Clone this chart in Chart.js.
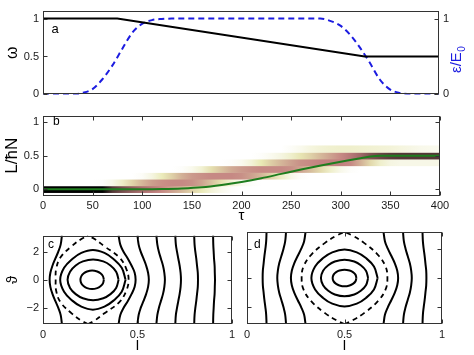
<!DOCTYPE html>
<html><head><meta charset="utf-8">
<script src="https://cdn.jsdelivr.net/npm/chart.js@4"></script>
<style>
html,body{margin:0;padding:0;background:#fff;width:474px;height:355px;overflow:hidden}
.box{position:absolute}
</style></head><body>
<div class="box" style="left:0;top:0;width:474px;height:105px"><canvas id="ca"></canvas></div>
<div class="box" style="left:0;top:105px;width:474px;height:120px"><canvas id="cb"></canvas></div>
<div class="box" style="left:0;top:225px;width:240px;height:130px"><canvas id="cc"></canvas></div>
<div class="box" style="left:240px;top:225px;width:234px;height:130px"><canvas id="cd"></canvas></div>
<script>
// ---------- DATA ----------
// panel a
const aTau = [0, 75, 325, 400];
const aOmega = [1, 1, 0.5, 0.5];
const epsTau = [0, 30, 40, 50, 60, 70, 80, 90, 100, 110, 120, 130, 280, 290, 300, 310, 320, 330, 340, 350, 360, 370, 380, 400];
const epsVal = [0, 0, 0.02, 0.07, 0.2, 0.38, 0.6, 0.81, 0.93, 0.98, 0.995, 1, 1, 0.97, 0.91, 0.79, 0.62, 0.42, 0.2, 0.07, 0.02, 0.005, 0, 0];
const aYTicks = [0, 0.5, 1];
const aY2Ticks = [0, 1];
// panel b
const lTau = [0, 50, 100, 120, 140, 160, 180, 200, 220, 240, 260, 280, 300, 320, 330, 340, 360, 400];
const lVal = [0, 0, 0, 0.003, 0.012, 0.03, 0.065, 0.11, 0.165, 0.23, 0.295, 0.355, 0.41, 0.465, 0.49, 0.5, 0.5, 0.5];
const bXTicks = [0, 50, 100, 150, 200, 250, 300, 350, 400];
const bYTicks = [0, 0.5, 1];
const hmTau = [0,10,20,30,40,50,60,70,80,90,100,110,120,130,140,150,160,170,180,190,200,210,220,230,240,250,260,270,280,290,300,310,320,330,340,350,360,370,380,390,400];
const hmL = [0, 0.1, 0.2, 0.3, 0.4, 0.5, 0.6];
const hmP0 = [1,1,1,1,1,1,1,.93,.86,.79,.72,.66,.6,.53,.45,.35,.24,.14,.07,.02,0,0,0,0,0,0,0,0,0,0,0,0,0,0,0,0,0,0,0,0,0];
const hmP1 = [0,0,0,0,0,0,.02,.09,.2,.34,.46,.54,.58,.6,.6,.58,.52,.41,.28,.15,.06,.02,0,0,0,0,0,0,0,0,0,0,0,0,0,0,0,0,0,0,0];
const hmP2 = [0,0,0,0,0,0,0,0,0,0,.03,.11,.23,.36,.48,.55,.58,.6,.6,.6,.58,.53,.46,.34,.2,.09,.02,0,0,0,0,0,0,0,0,0,0,0,0,0,0];
const hmP3 = [0,0,0,0,0,0,0,0,0,0,0,0,0,0,.02,.07,.16,.3,.41,.5,.55,.58,.6,.6,.6,.58,.52,.43,.31,.18,.08,.02,0,0,0,0,0,0,0,0,0];
const hmP4 = [0,0,0,0,0,0,0,0,0,0,0,0,0,0,0,0,0,0,0,.02,.06,.14,.25,.37,.46,.53,.58,.6,.62,.63,.63,.6,.48,.32,.18,.11,.09,.09,.09,.09,.09];
const hmP5 = [0,0,0,0,0,0,0,0,0,0,0,0,0,0,0,0,0,0,0,0,0,0,.02,.06,.11,.18,.27,.36,.45,.53,.6,.67,.75,.84,.89,.92,.93,.93,.93,.93,.93];
const hmP6 = [0,0,0,0,0,0,0,0,0,0,0,0,0,0,0,0,0,0,0,0,0,0,0,0,0,.03,.07,.12,.15,.17,.18,.18,.17,.16,.15,.14,.12,.1,.08,.07,.06];
// panels c, d
const cdXTicks = [0, 0.5, 1];
const cdYTicks = [-2, 0, 2];
const thetaS = [-3.1416,-2.5,-2,-1.5,-1,-0.5,0,0.5,1,1.5,2,2.5,3.1416];
const cOpen1 = [0.100,0.0935,0.081,0.065,0.050,0.039,0.035,0.039,0.050,0.065,0.081,0.0935,0.100];
const cOpen4 = [0.400,0.409,0.426,0.449,0.469,0.485,0.490,0.485,0.469,0.449,0.426,0.409,0.400];
const cOpen5 = [0.500,0.506,0.517,0.532,0.546,0.556,0.560,0.556,0.546,0.532,0.517,0.506,0.500];
const cOpen6 = [0.600,0.605,0.613,0.624,0.635,0.642,0.645,0.642,0.635,0.624,0.613,0.605,0.600];
const cOpen7 = [0.700,0.703,0.709,0.716,0.723,0.728,0.730,0.728,0.723,0.716,0.709,0.703,0.700];
const cOpen8 = [0.800,0.802,0.806,0.811,0.815,0.819,0.820,0.819,0.815,0.811,0.806,0.802,0.800];
const cOpen9 = [0.900,0.901,0.903,0.905,0.908,0.909,0.910,0.909,0.908,0.905,0.903,0.901,0.900];
const cRing1 = [[0.322,0],[0.317,0.26],[0.304,0.46],[0.287,0.59],[0.26,0.66],[0.233,0.59],[0.216,0.46],[0.203,0.26],[0.198,0],[0.203,-0.26],[0.216,-0.46],[0.233,-0.59],[0.26,-0.66],[0.287,-0.59],[0.304,-0.46],[0.317,-0.26],[0.322,0]];
const cRing2 = [[0.400,0],[0.387,0.58],[0.357,1.02],[0.319,1.31],[0.265,1.45],[0.211,1.31],[0.173,1.02],[0.143,0.58],[0.130,0],[0.143,-0.58],[0.173,-1.02],[0.211,-1.31],[0.265,-1.45],[0.319,-1.31],[0.357,-1.02],[0.387,-0.58],[0.400,0]];
const cRing3 = [[0.437,0],[0.4165,0.85],[0.373,1.48],[0.325,1.91],[0.264,2.12],[0.203,1.91],[0.155,1.48],[0.1115,0.85],[0.091,0],[0.1115,-0.85],[0.155,-1.48],[0.203,-1.91],[0.264,-2.12],[0.325,-1.91],[0.373,-1.48],[0.4165,-0.85],[0.437,0]];
const cSepR = [[0.238,-3.1416],[0.273,-2.9],[0.323,-2.4],[0.403,-1.6],[0.44,-0.8],[0.453,0],[0.44,0.8],[0.403,1.6],[0.323,2.4],[0.273,2.9],[0.238,3.1416]];
const cSepL = [[0.238,-3.1416],[0.203,-2.9],[0.153,-2.4],[0.093,-1.6],[0.07,-0.8],[0.067,0],[0.07,0.8],[0.093,1.6],[0.153,2.4],[0.203,2.9],[0.238,3.1416]];
const dOpen1 = [0.100,0.098,0.094,0.089,0.085,0.081,0.080,0.081,0.085,0.089,0.094,0.098,0.100];
const dOpen2 = [0.200,0.1955,0.187,0.176,0.165,0.158,0.155,0.158,0.165,0.176,0.187,0.1955,0.200];
const dOpen3 = [0.300,0.2925,0.278,0.2595,0.242,0.2295,0.225,0.2295,0.242,0.2595,0.278,0.2925,0.300];
const dOpen7 = [0.700,0.7075,0.722,0.7405,0.758,0.7705,0.775,0.7705,0.758,0.7405,0.722,0.7075,0.700];
const dOpen8 = [0.800,0.8045,0.813,0.824,0.835,0.842,0.845,0.842,0.835,0.824,0.813,0.8045,0.800];
const dOpen9 = [0.900,0.902,0.906,0.911,0.915,0.919,0.920,0.919,0.915,0.911,0.906,0.902,0.900];
const dRing1 = [[0.561,0],[0.556,0.23],[0.543,0.40],[0.526,0.51],[0.5,0.57],[0.474,0.51],[0.457,0.40],[0.444,0.23],[0.439,0],[0.444,-0.23],[0.457,-0.40],[0.474,-0.51],[0.5,-0.57],[0.526,-0.51],[0.543,-0.40],[0.556,-0.23],[0.561,0]];
const dRing2 = [[0.621,0],[0.610,0.5],[0.5835,0.875],[0.55,1.125],[0.5,1.25],[0.45,1.125],[0.4165,0.875],[0.39,0.5],[0.379,0],[0.39,-0.5],[0.4165,-0.875],[0.45,-1.125],[0.5,-1.25],[0.55,-1.125],[0.5835,-0.875],[0.61,-0.5],[0.621,0]];
const dRing3 = [[0.67,0],[0.651,0.78],[0.61,1.36],[0.563,1.75],[0.5,1.94],[0.437,1.75],[0.39,1.36],[0.349,0.78],[0.33,0],[0.349,-0.78],[0.39,-1.36],[0.437,-1.75],[0.5,-1.94],[0.563,-1.75],[0.61,-1.36],[0.651,-0.78],[0.67,0]];
const dSepR = [[0.5,-3.1416],[0.54,-2.9],[0.6,-2.4],[0.67,-1.6],[0.71,-0.8],[0.72,0],[0.71,0.8],[0.67,1.6],[0.6,2.4],[0.54,2.9],[0.5,3.1416]];
const dSepL = [[0.5,-3.1416],[0.46,-2.9],[0.4,-2.4],[0.33,-1.6],[0.29,-0.8],[0.28,0],[0.29,0.8],[0.33,1.6],[0.4,2.4],[0.46,2.9],[0.5,3.1416]];

// ---------- STYLE / HELPERS ----------
const FONT = "'Liberation Sans', Arial, Helvetica, sans-serif";
const TXT = '#1a1a1a';
Chart.defaults.font.family = FONT;
Chart.defaults.color = TXT;

function pinkRev(p){
  const t = 1 - Math.max(0, Math.min(1, p));
  const rh = Math.min(1, t/0.375);
  const gh = Math.max(0, Math.min(1, (t-0.375)/0.375));
  const bh = Math.max(0, Math.min(1, (t-0.75)/0.25));
  const f = h => Math.round(Math.sqrt((2*t + h)/3)*255);
  return 'rgb(' + f(rh) + ',' + f(gh) + ',' + f(bh) + ')';
}
const fmt = v => (v < 0 ? '\u2212' + Math.abs(v) : String(v));
const setTicks = arr => (s => { s.ticks = arr.map(v => ({value: v})); });
const noGrid = {display:false, drawTicks:false};
const noBorder = {display:false};

function framePlugin(cfg){
  return {
    id: 'frame_' + cfg.name,
    afterDatasetsDraw(chart){
      const {ctx, chartArea:a} = chart;
      ctx.save();
      ctx.strokeStyle = '#333'; ctx.lineWidth = 1;
      const L = Math.round(a.left)+0.5, R = Math.round(a.right)-0.5, T = Math.round(a.top)+0.5, B = Math.round(a.bottom)-0.5;
      ctx.strokeRect(L, T, R-L, B-T);
      const len = 4;
      (cfg.ticks||[]).forEach(tc => {
        const s = chart.scales[tc.id];
        s.ticks.forEach(tk => {
          const p = Math.round(s.getPixelForValue(tk.value)) + 0.5;
          tc.sides.forEach(side => {
            ctx.beginPath();
            if (side === 'bottom'){ ctx.moveTo(p, B); ctx.lineTo(p, B-len); }
            if (side === 'top'){ ctx.moveTo(p, T); ctx.lineTo(p, T+len); }
            if (side === 'left'){ ctx.moveTo(L, p); ctx.lineTo(L+len, p); }
            if (side === 'right'){ ctx.moveTo(R, p); ctx.lineTo(R-len, p); }
            ctx.stroke();
          });
        });
      });
      (cfg.texts||[]).forEach(t => {
        ctx.fillStyle = t.color || '#000';
        ctx.font = t.size + 'px ' + FONT;
        ctx.textBaseline = 'alphabetic'; ctx.textAlign = 'left';
        ctx.fillText(t.text, t.x, t.y);
      });
      if (cfg.extra) cfg.extra(ctx);
      ctx.restore();
    }
  };
}

const heatmapPlugin = {
  id: 'heatmap',
  beforeDatasetsDraw(chart){
    const {ctx, chartArea:a, scales:{x, y}} = chart;
    const rows = [hmP0, hmP1, hmP2, hmP3, hmP4, hmP5, hmP6];
    ctx.save();
    ctx.beginPath(); ctx.rect(a.left, a.top, a.width, a.height); ctx.clip();
    const x0 = x.getPixelForValue(hmTau[0]), x1 = x.getPixelForValue(hmTau[hmTau.length-1]);
    hmL.forEach((L, r) => {
      const g = ctx.createLinearGradient(x0, 0, x1, 0);
      hmTau.forEach((t, j) => g.addColorStop((x.getPixelForValue(t)-x0)/(x1-x0), pinkRev(rows[r][j])));
      const yT = y.getPixelForValue(L + 0.05), yB = y.getPixelForValue(L - 0.05);
      ctx.fillStyle = g;
      ctx.fillRect(x0, yT - 0.3, x1 - x0, yB - yT + 0.6);
    });
    ctx.restore();
  }
};

const base = {responsive:true, maintainAspectRatio:false, animation:false, devicePixelRatio:1,
  plugins:{legend:{display:false}, tooltip:{enabled:false}}};
const tickFont = {family: FONT, size: 11};
const toXY = (xs, ys) => xs.map((v, i) => ({x: v, y: ys[i]}));
const lineDs = (data, extra) => Object.assign({data, showLine:true, pointRadius:0, borderColor:'#000', borderWidth:2, fill:false}, extra||{});

// ---------- PANEL a ----------
new Chart(document.getElementById('ca'), {
  type: 'scatter',
  data: {datasets: [
    lineDs(toXY(aTau, aOmega), {tension:0, yAxisID:'y'}),
    lineDs(toXY(epsTau, epsVal), {borderColor:'#1c1ce0', borderDash:[6,4], cubicInterpolationMode:'monotone', yAxisID:'y2'})
  ]},
  options: Object.assign({}, base, {
    layout: {padding:{top:11, right:0, bottom:0, left:0}},
    scales: {
      x: {type:'linear', min:0, max:400, ticks:{display:false}, grid:noGrid, border:noBorder, afterFit: s => { s.height = 6; }},
      y: {type:'linear', position:'left', min:0, max:1.1, afterBuildTicks: setTicks(aYTicks), afterFit: s => { s.width = 43; },
          ticks:{padding:4, font:tickFont, callback: fmt}, grid:noGrid, border:noBorder,
          title:{display:true, text:'ω', font:{family:FONT, size:16}, padding:{top:3, bottom:0}, color:'#000'}},
      y2: {type:'linear', position:'right', min:0, max:1.1, afterBuildTicks: setTicks(aY2Ticks), afterFit: s => { s.width = 35; },
          ticks:{padding:4, font:tickFont, callback: fmt}, grid:noGrid, border:noBorder}
    }
  }),
  plugins: [framePlugin({name:'a', ticks:[{id:'y', sides:['left']}, {id:'y2', sides:['right']}],
    texts:[{text:'a', x:51.5, y:32.5, size:13}],
    extra: ctx => {
      ctx.save();
      ctx.translate(461, 73); ctx.rotate(-Math.PI/2);
      ctx.fillStyle = '#1c1ce0'; ctx.textBaseline = 'alphabetic'; ctx.textAlign = 'left';
      ctx.font = '15px ' + FONT; ctx.fillText('ε/E', 0, 0);
      const w = ctx.measureText('ε/E').width;
      ctx.font = '10px ' + FONT; ctx.fillText('0', w + 0.5, 3.5);
      ctx.restore();
    }})]
});

// ---------- PANEL b ----------
new Chart(document.getElementById('cb'), {
  type: 'scatter',
  data: {datasets: [
    lineDs(toXY(lTau, lVal), {borderColor:'#1e7d1e', cubicInterpolationMode:'monotone'})
  ]},
  options: Object.assign({}, base, {
    layout: {padding:{top:4, right:34, bottom:0, left:0}},
    scales: {
      x: {type:'linear', min:0, max:400, afterBuildTicks: setTicks(bXTicks), afterFit: s => { s.height = 29; },
          ticks:{padding:3, font:tickFont, maxRotation:0, callback: fmt}, grid:noGrid, border:noBorder,
          title:{display:true, text:'τ', font:{family:FONT, size:15}, padding:{top:0, bottom:0}, color:'#000'}},
      y: {type:'linear', min:-0.1, max:1.1, afterBuildTicks: setTicks(bYTicks), afterFit: s => { s.width = 43; },
          ticks:{padding:4, font:tickFont, callback: fmt}, grid:noGrid, border:noBorder,
          title:{display:true, text:'L/ħN', font:{family:FONT, size:17}, padding:{top:2, bottom:0}, color:'#000'}}
    }
  }),
  plugins: [heatmapPlugin, framePlugin({name:'b', ticks:[{id:'x', sides:['bottom','top']}, {id:'y', sides:['left','right']}],
    texts:[{text:'b', x:53, y:20, size:12}]})]
});

// ---------- PANELS c, d ----------
function phaseChart(id, opens, rings, seps, isC){
  const ds = [];
  opens.forEach(arr => ds.push(lineDs(toXY(arr, thetaS), {tension:0.4})));
  rings.forEach(pr => ds.push(lineDs(pr.map(p => ({x:p[0], y:p[1]})), {tension:0.4})));
  seps.forEach(pr => ds.push(lineDs(pr.map(p => ({x:p[0], y:p[1]})), {tension:0.4, borderDash:[5,4], borderWidth:1.8})));
  new Chart(document.getElementById(id), {
    type: 'scatter',
    data: {datasets: ds},
    options: Object.assign({}, base, {
      layout: {padding:{top:7, right: isC ? 8 : 32, bottom:0, left:0}},
      scales: {
        x: {type:'linear', min:0, max:1, afterBuildTicks: setTicks(cdXTicks), afterFit: s => { s.height = 31; },
            ticks:{padding:4, font:tickFont, maxRotation:0, callback: fmt}, grid:noGrid, border:noBorder,
            title:{display:true, text:'I', font:{family:FONT, size:14}, padding:{top:0, bottom:0}, color:'#000'}},
        y: {type:'linear', min:-3.1416, max:3.1416, afterBuildTicks: setTicks(cdYTicks), afterFit: s => { s.width = isC ? 43 : 7; },
            ticks:{display:isC, padding:4, font:tickFont, callback: fmt}, grid:noGrid, border:noBorder,
            title:{display:isC, text:'ϑ', font:{family:FONT, size:15}, padding:{top:4, bottom:0}, color:'#000'}}
      }
    }),
    plugins: [framePlugin({name:id, ticks:[{id:'x', sides:['bottom','top']}, {id:'y', sides:['left','right']}],
      texts:[isC ? {text:'c', x:48, y:22.5, size:12} : {text:'d', x:14, y:22.5, size:12}]})]
  });
}
phaseChart('cc', [cOpen1, cOpen4, cOpen5, cOpen6, cOpen7, cOpen8, cOpen9], [cRing1, cRing2, cRing3], [cSepR, cSepL], true);
phaseChart('cd', [dOpen1, dOpen2, dOpen3, dOpen7, dOpen8, dOpen9], [dRing1, dRing2, dRing3], [dSepR, dSepL], false);
</script>
</body></html>
